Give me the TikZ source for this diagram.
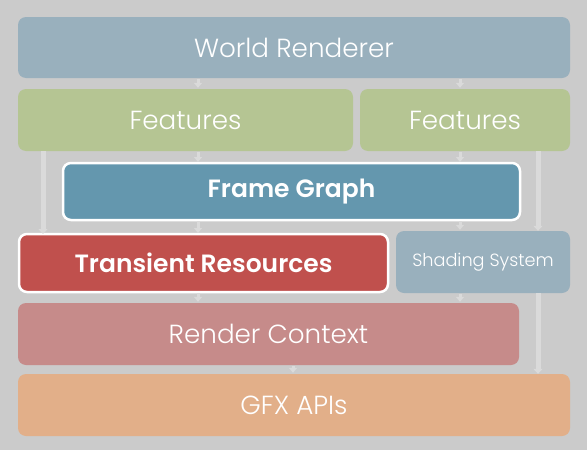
\documentclass[tikz,border=0pt]{standalone}
\usepackage{fontspec}
\IfFontExistsTF{Poppins Light}{\setmainfont{Poppins Light}[BoldFont={Poppins SemiBold}]}{\setmainfont{Poppins}}
\usetikzlibrary{arrows.meta}
\definecolor{bg}{HTML}{CBCBCB}
\definecolor{cwr}{HTML}{99B0BD}
\definecolor{cfe}{HTML}{B5C593}
\definecolor{cfg}{HTML}{6497AE}
\definecolor{ctr}{HTML}{C0504D}
\definecolor{crc}{HTML}{C68B8A}
\definecolor{cgfx}{HTML}{E2AF89}
\definecolor{carr}{HTML}{DADADA}
\tikzset{
  box/.style={rounded corners=8pt, text=white, inner sep=0pt, font=\fontsize{26.2}{28}\selectfont},
  hbox/.style={box, draw=white, line width=2.5pt, font=\fontsize{25}{28}\selectfont\bfseries},
  sarr/.style={draw=carr, line width=3pt, -{Triangle[width=8pt,length=5pt]}, shorten >=1pt, shorten <=1pt},
  larr/.style={draw=carr, line width=5pt, -{Triangle[width=9pt,length=5pt]}},
}
\begin{document}
\begin{tikzpicture}[x=1pt,y=-1pt]
\fill[bg] (0,0) rectangle (587,450);
\useasboundingbox (0,0) rectangle (587,450);
\node[box, fill=cwr, minimum width=552pt, minimum height=61pt] (wr) at (294,47.5) {World Renderer};
\node[box, fill=cfe, minimum width=335pt, minimum height=62pt] (fl) at (185.5,120) {Features};
\node[box, fill=cfe, minimum width=210pt, minimum height=62pt] (fr) at (465,120) {Features};
\node[hbox, fill=cfg, minimum width=457pt, minimum height=57pt] (fg) at (291.5,191.5) {Frame Graph};
\node[hbox, fill=ctr, minimum width=369pt, minimum height=58pt] (tr) at (203.5,263) {Transient Resources};
\node[box, fill=cwr, minimum width=174pt, minimum height=62pt, font=\fontsize{17.7}{20}\selectfont] (sh) at (483,262) {Shading System};
\node[box, fill=crc, minimum width=501pt, minimum height=62pt] (rc) at (268.5,334) {Render Context};
\node[box, fill=cgfx, minimum width=552pt, minimum height=62pt] (gfx) at (294,405) {GFX APIs};
\coordinate (xa) at (198,0);
\coordinate (xb) at (460,0);
\coordinate (xc) at (293,0);
\coordinate (xl) at (43,0);
\coordinate (xr) at (538,0);
% short arrows
\draw[sarr] (wr.south -| xa) -- (fl.north -| xa);
\draw[sarr] (fl.south -| xa) -- ([yshift=-1.25pt]fg.north -| xa);
\draw[sarr] ([yshift=1.25pt]fg.south -| xa) -- ([yshift=-1.25pt]tr.north -| xa);
\draw[sarr] ([yshift=1.25pt]tr.south -| xa) -- (rc.north -| xa);
\draw[sarr] (wr.south -| xb) -- (fr.north -| xb);
\draw[sarr] (fr.south -| xb) -- ([yshift=-1.25pt]fg.north -| xb);
\draw[sarr] ([yshift=1.25pt]fg.south -| xb) -- (sh.north -| xb);
\draw[sarr] (sh.south -| xb) -- (rc.north -| xb);
\draw[sarr] (rc.south -| xc) -- (gfx.north -| xc);
% long arrows
\draw[larr] (fl.south -| xl) -- ([yshift=-1.25pt]tr.north -| xl);
\draw[larr] (fr.south -| xr) -- (sh.north -| xr);
\draw[larr] (sh.south -| xr) -- (gfx.north -| xr);
\end{tikzpicture}
\end{document}
